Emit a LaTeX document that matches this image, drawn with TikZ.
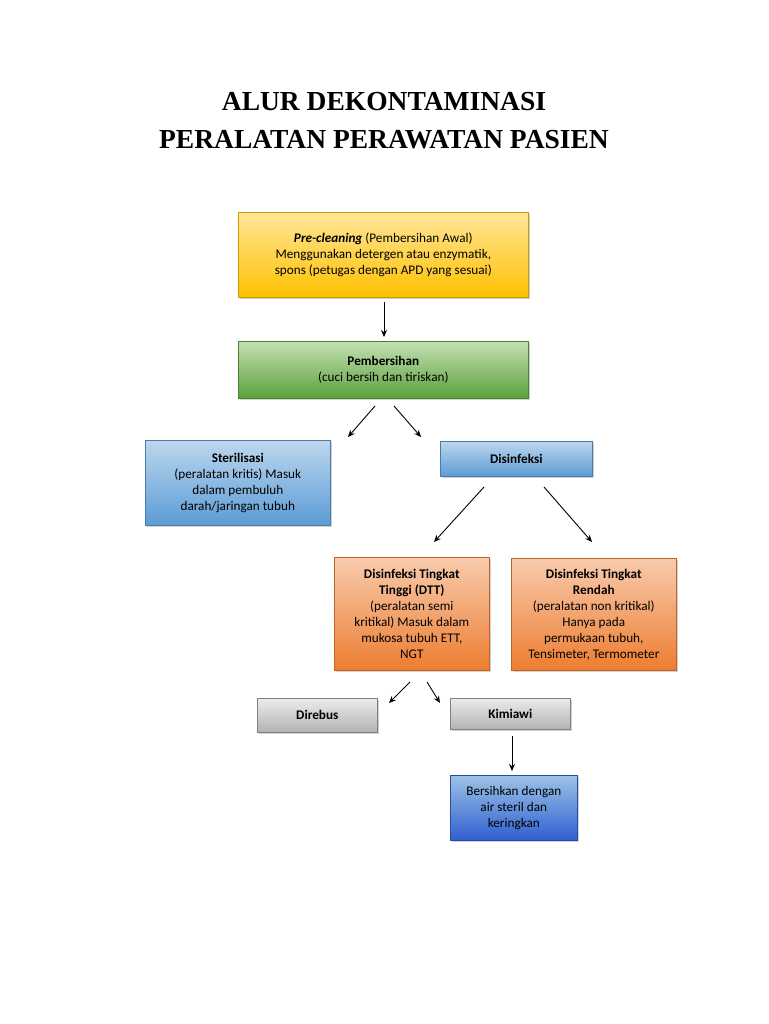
\documentclass[tikz,border=0pt]{standalone}
\usepackage{fontspec}
\setmainfont{Carlito}
\newfontfamily\titlefont{Liberation Serif}
\usetikzlibrary{shadows,arrows.meta}
\definecolor{lb1}{HTML}{BDD7EE}\definecolor{lb2}{HTML}{5B9BD5}
\definecolor{db1}{HTML}{9DC3E6}\definecolor{db2}{HTML}{2F5FD0}
\definecolor{or1}{HTML}{F8CBAD}\definecolor{or2}{HTML}{ED7D31}
\definecolor{gr1}{HTML}{C5E0B4}\definecolor{gr2}{HTML}{5BA03A}
\definecolor{ye1}{HTML}{FFE699}\definecolor{ye2}{HTML}{FFC000}
\begin{document}
\begin{tikzpicture}[x=1pt,y=-1pt,
 bx/.style={draw=#1,line width=0.6pt,align=center,anchor=north west,inner sep=2pt,
   font=\fontsize{13.2}{16}\selectfont,drop shadow={opacity=0.35,shadow xshift=2pt,shadow yshift=-2pt}},
 arr/.style={-{Stealth[length=7pt,width=6pt]},line width=0.9pt}]
\useasboundingbox (0,0) rectangle (768,1024);
\fill[white] (0,0) rectangle (768,1024);
\node[font=\titlefont\bfseries\fontsize{27.5}{30}\selectfont] (t1) at (384,102) {ALUR DEKONTAMINASI};
\node[font=\titlefont\bfseries\fontsize{27.5}{30}\selectfont] (t2) at (384,140) {PERALATAN PERAWATAN PASIEN};
\node[bx=ye2!80!black,top color=ye1,bottom color=ye2,minimum width=290,minimum height=85] (pre) at (238,212)
 {\textbf{\textit{Pre-cleaning}} (Pembersihan Awal)\\Menggunakan detergen atau enzymatik,\\spons (petugas dengan APD yang sesuai)};
\node[bx=gr2!80!black,top color=gr1,bottom color=gr2,minimum width=290,minimum height=57] (pem) at (238,341)
 {\textbf{Pembersihan}\\(cuci bersih dan tiriskan)};
\node[bx=lb2!80!black,top color=lb1,bottom color=lb2,minimum width=185,minimum height=85] (ste) at (145,440)
 {\textbf{Sterilisasi}\\(peralatan kritis) Masuk\\dalam pembuluh\\darah/jaringan tubuh};
\node[bx=lb2!80!black,top color=lb1,bottom color=lb2,minimum width=152,minimum height=35] (dis) at (440,441)
 {\textbf{Disinfeksi}};
\node[bx=or2!80!black,top color=or1,bottom color=or2,minimum width=155,minimum height=113] (dtt) at (334,557)
 {\textbf{Disinfeksi Tingkat}\\\textbf{Tinggi (DTT)}\\(peralatan semi\\kritikal) Masuk dalam\\mukosa tubuh ETT,\\NGT};
\node[bx=or2!80!black,top color=or1,bottom color=or2,minimum width=165,minimum height=112] (dtr) at (511,558)
 {\textbf{Disinfeksi Tingkat}\\\textbf{Rendah}\\(peralatan non kritikal)\\Hanya pada\\permukaan tubuh,\\Tensimeter, Termometer};
\node[bx=gray,top color=gray!15,bottom color=gray!60,minimum width=120,minimum height=34] (reb) at (257,698) {\textbf{Direbus}};
\node[bx=gray,top color=gray!15,bottom color=gray!60,minimum width=120,minimum height=31] (kim) at (450,698) {\textbf{Kimiawi}};
\node[bx=db2!80!black,top color=db1,bottom color=db2,minimum width=127,minimum height=65] (ber) at (450,775)
 {Bersihkan dengan\\air steril dan\\keringkan};
\coordinate (a1) at (384,302); \coordinate (b1) at (384,337);
\coordinate (a2) at (375,406); \coordinate (b2) at (348,437);
\coordinate (a3) at (394,406); \coordinate (b3) at (421,437);
\coordinate (a4) at (484,487); \coordinate (b4) at (434,542);
\coordinate (a5) at (544,487); \coordinate (b5) at (592,542);
\coordinate (a6) at (410,682); \coordinate (b6) at (389,703);
\coordinate (a7) at (427,682); \coordinate (b7) at (440,703);
\coordinate (a8) at (512,736); \coordinate (b8) at (512,771);
\foreach \i in {1,...,8} \draw[arr] (a\i) -- (b\i);
\end{tikzpicture}
\end{document}
